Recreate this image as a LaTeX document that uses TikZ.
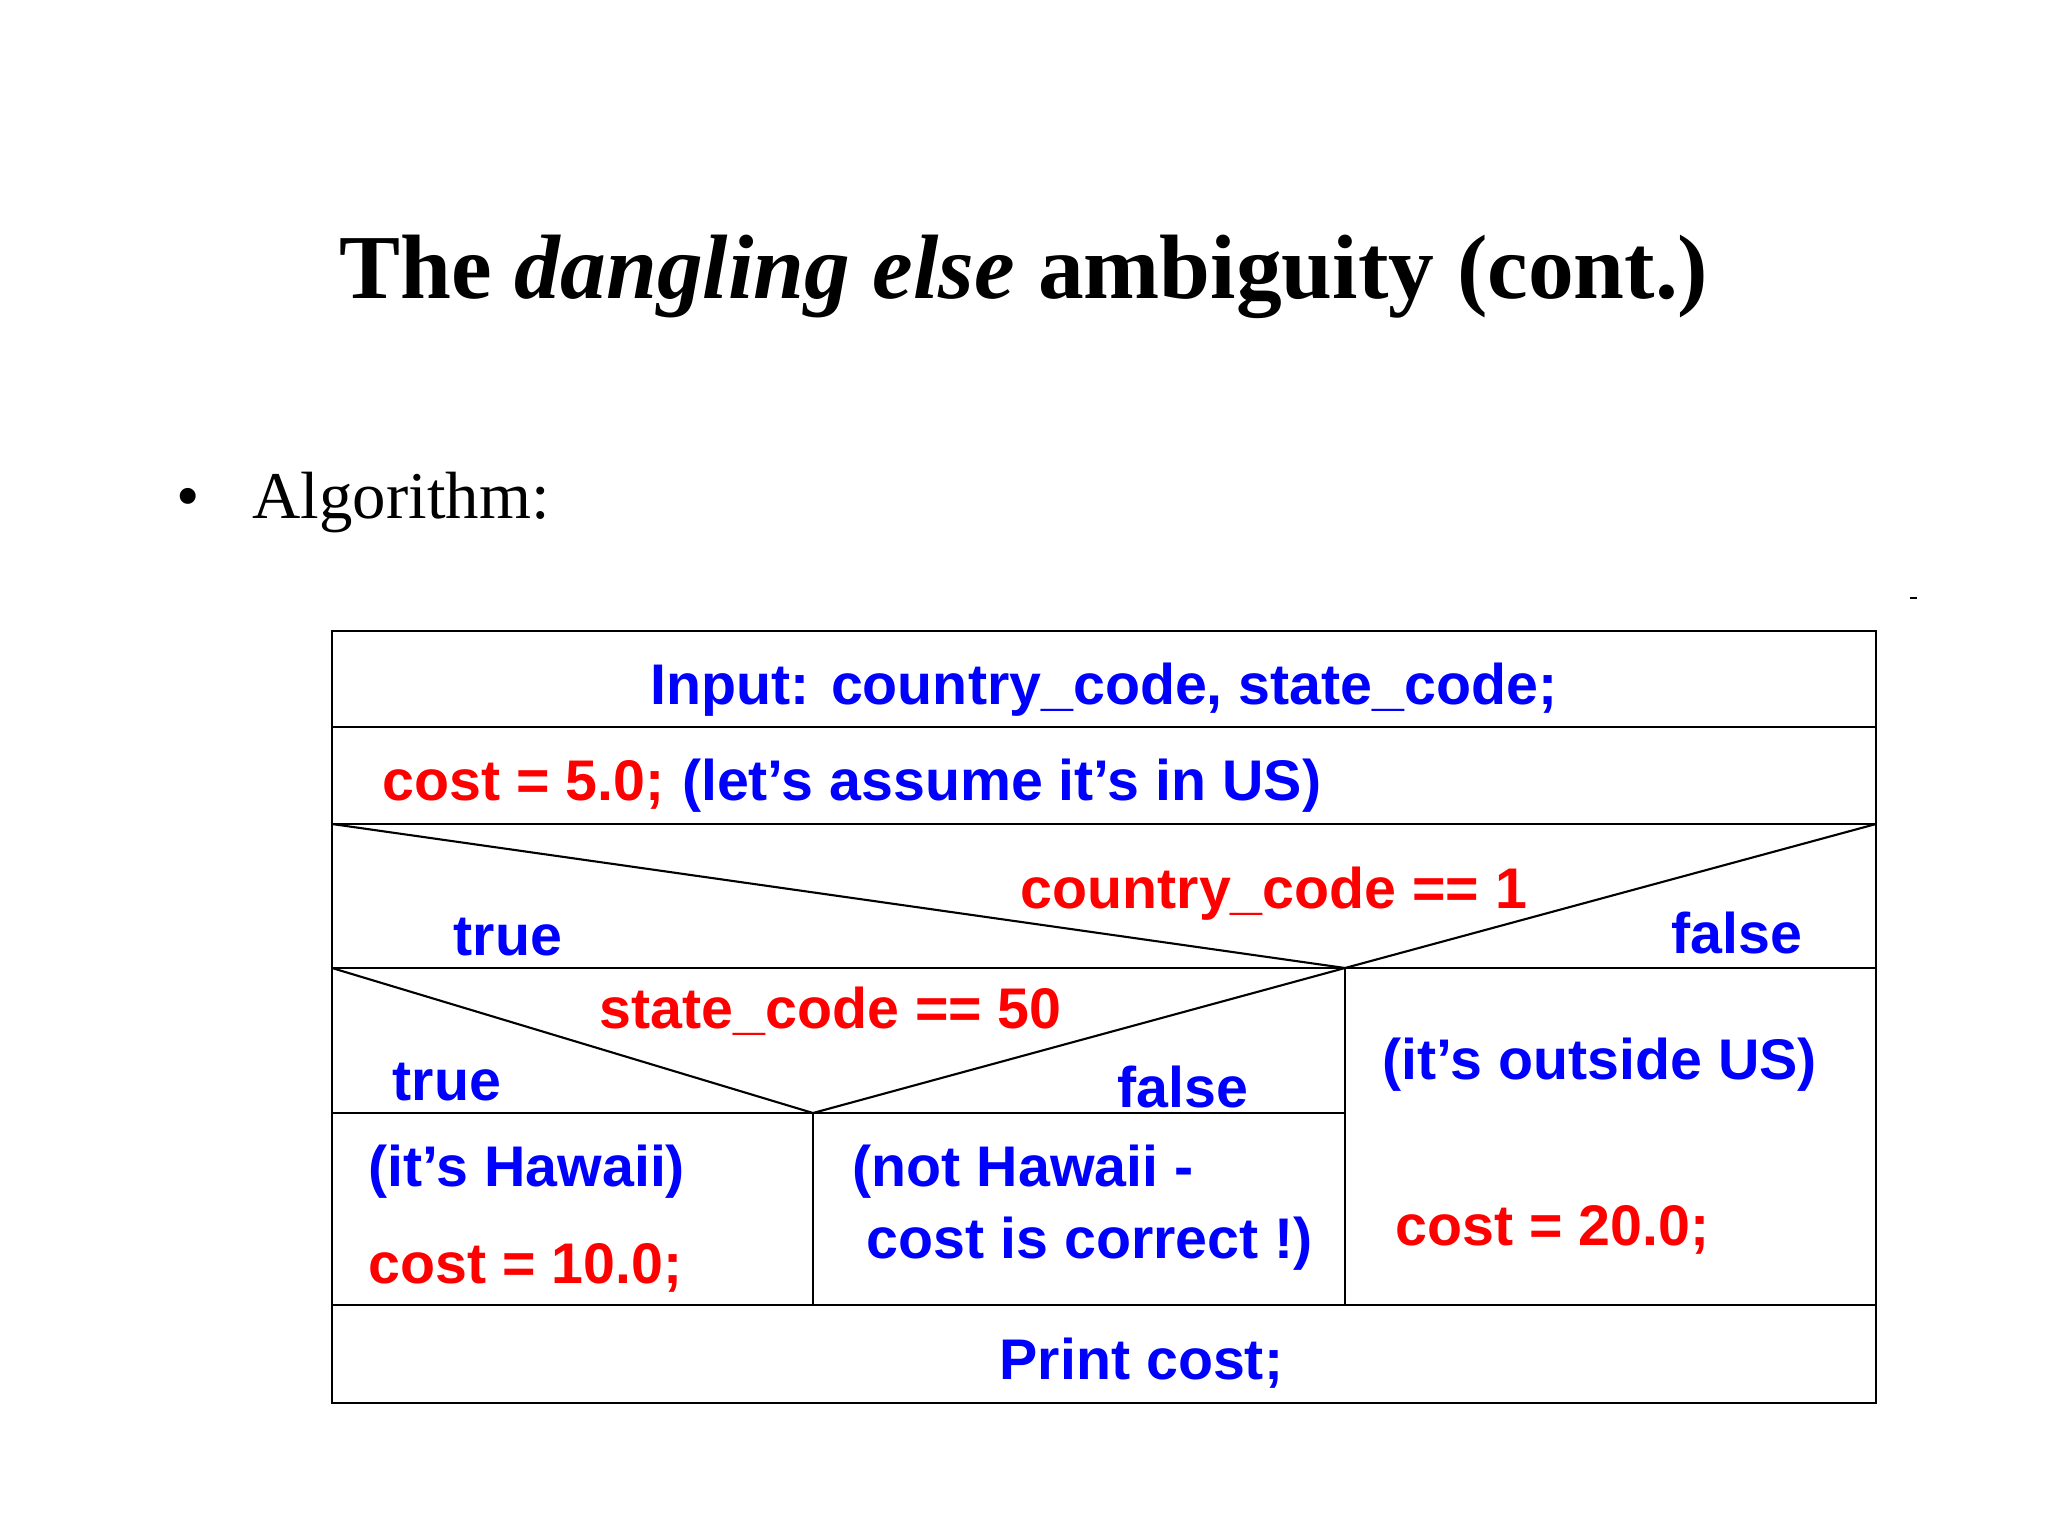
\documentclass[tikz,border=0pt]{standalone}
\usepackage{fontspec}
\setmainfont{Liberation Serif}
\newfontfamily\tabfont{Liberation Sans}[BoldFont={* Bold}]
\definecolor{tblue}{RGB}{0,0,255}
\definecolor{tred}{RGB}{255,0,0}
\tikzset{
  cell/.style={line width=0.8pt},
  diag/.style={line width=0.6pt},
  txt/.style={inner sep=0pt, anchor=base west, font=\tabfont\bfseries\fontsize{16.3}{18}\selectfont},
  btxt/.style={txt, text=tblue},
  rtxt/.style={txt, text=tred},
}
\begin{document}
\begin{tikzpicture}[x=0.01cm, y=-0.01cm]
\useasboundingbox (0,0) rectangle (2048,1536);
\fill[white] (0,0) rectangle (2048,1536);

% title and bullet
\node[inner sep=0pt, anchor=base] (title) at (1024,298)
  {\fontsize{26}{30}\selectfont\bfseries The \textit{dangling else} ambiguity (cont.)};
\node[inner sep=0pt, anchor=base] (bullet) at (188,518) {\fontsize{19}{22}\selectfont\textbullet};
\node[inner sep=0pt, anchor=base west] (alg) at (252,518) {\fontsize{19}{22}\selectfont Algorithm:};
\draw[line width=0.8pt] (1910,598) coordinate (dA) -- (1917,598) coordinate (dB);

% table coordinates
\coordinate (TL) at (332,631);
\coordinate (TR) at (1876,631);
\coordinate (BL) at (332,1403);
\coordinate (BR) at (1876,1403);
\coordinate (r1L) at (332,727); \coordinate (r1R) at (1876,727);
\coordinate (r2L) at (332,824); \coordinate (r2R) at (1876,824);
\coordinate (r3L) at (332,968); \coordinate (r3R) at (1876,968);
\coordinate (r4L) at (332,1113); \coordinate (r4M) at (1345,1113);
\coordinate (r5L) at (332,1305); \coordinate (r5R) at (1876,1305);
\coordinate (v1T) at (1345,968);
\coordinate (v2T) at (813,1113);
\coordinate (v2B) at (813,1305);
\coordinate (v1B) at (1345,1305);

\draw[cell] (TL) rectangle (BR);
\draw[cell] (r1L) -- (r1R);
\draw[cell] (r2L) -- (r2R);
\draw[cell] (r3L) -- (r3R);
\draw[cell] (r4L) -- (r4M);
\draw[cell] (r5L) -- (r5R);
\draw[cell] (v1T) -- (v1B);
\draw[cell] (v2T) -- (v2B);
\draw[diag] (r2L) -- (v1T) -- (r2R);
\draw[diag] (r3L) -- (v2T) -- (v1T);

% texts
\node[btxt, anchor=base] (inp) at (1104,704) {Input: country\_code, state\_code;};
\node[rtxt] (cost5) at (382,800) {cost = 5.0;};
\node[btxt, anchor=base west] (assume) at (cost5.base east) {\ (let’s assume it’s in US)};
\node[rtxt] (cond1) at (1020,908) {country\_code == 1};
\node[btxt] (true1) at (453,955) {true};
\node[btxt] (false1) at (1671,953) {false};
\node[rtxt] (cond2) at (599,1028) {state\_code == 50};
\node[btxt] (true2) at (392,1100) {true};
\node[btxt] (false2) at (1117,1107) {false};
\node[btxt] (outs) at (1382,1079) {(it’s outside US)};
\node[btxt] (haw) at (368,1186) {(it’s Hawaii)};
\node[rtxt] (cost10) at (368,1283) {cost = 10.0;};
\node[btxt] (noth) at (852,1186) {(not Hawaii -};
\node[btxt] (corr) at (866,1258) {cost is correct !)};
\node[rtxt] (cost20) at (1395,1245) {cost = 20.0;};
\node[btxt] (print) at (999,1379) {Print cost;};
\end{tikzpicture}
\end{document}
